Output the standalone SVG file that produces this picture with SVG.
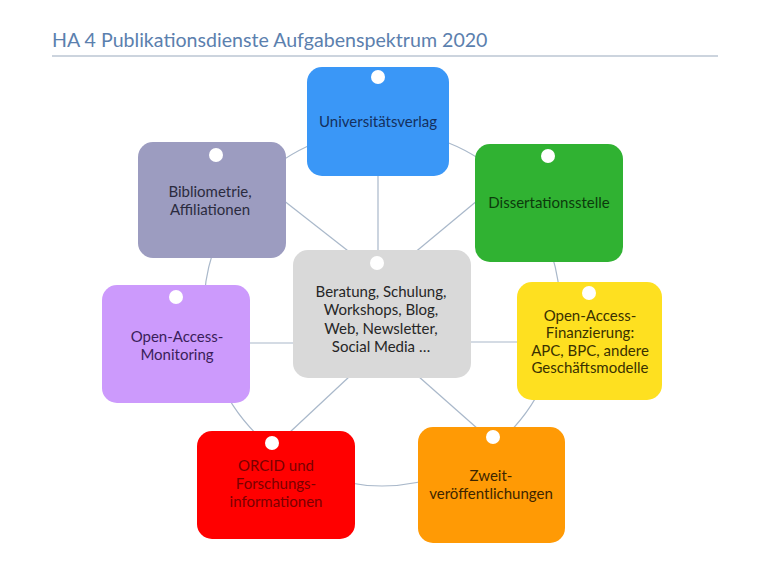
<svg xmlns="http://www.w3.org/2000/svg" width="768" height="576" viewBox="0 0 768 576">
<style>
.t{font-family:Lato,"Open Sans","Liberation Sans",sans-serif;font-size:15px;text-anchor:middle}
.box{stroke:none}
.dot{fill:#FFFFFF}
.c{fill:none;stroke:#A9B8CA;stroke-width:1.2}
</style>
<rect width="768" height="576" fill="#FFFFFF"/>
<g id="title">
<text x="52" y="47" font-family="Lato,'Open Sans','Liberation Sans',sans-serif" font-size="19.6" fill="#5B80AE">HA 4 Publikationsdienste Aufgabenspektrum 2020</text>
<line x1="52" y1="56" x2="718" y2="56" stroke="#9AAABD" stroke-width="1.2"/>
</g>
<g id="connectors">
<circle class="c" cx="382" cy="308" r="178"/>
<line class="c" x1="378" y1="176" x2="378" y2="252"/>
<line class="c" x1="283" y1="200" x2="352" y2="254"/>
<line class="c" x1="478" y1="200" x2="413" y2="254"/>
<line class="c" x1="248" y1="343" x2="295" y2="343"/>
<line class="c" x1="469" y1="342" x2="519" y2="342"/>
<line class="c" x1="350" y1="376" x2="289" y2="433"/>
<line class="c" x1="418" y1="376" x2="478" y2="429"/>
</g>
<g id="n-center">
<rect class="box" x="293" y="250" width="178" height="128" rx="15" fill="#D9D9D9"/>
<circle class="dot" cx="377" cy="263" r="7"/>
<text class="t" fill="#262626" font-size="16"><tspan x="381" y="297">Beratung, Schulung,</tspan><tspan x="381" y="315">Workshops, Blog,</tspan><tspan x="381" y="334">Web, Newsletter,</tspan><tspan x="381" y="352">Social Media …</tspan></text>
</g>
<g id="n-universitaetsverlag">
<rect class="box" x="307" y="67" width="142" height="109" rx="15" fill="#3A97F7"/>
<circle class="dot" cx="378" cy="77" r="7"/>
<text class="t" fill="#14305E" x="378" y="127">Universitätsverlag</text>
</g>
<g id="n-dissertationsstelle">
<rect class="box" x="475" y="144" width="148" height="118" rx="15" fill="#30B232"/>
<circle class="dot" cx="548" cy="156" r="7"/>
<text class="t" fill="#0C3A0C" x="549" y="208">Dissertationsstelle</text>
</g>
<g id="n-finanzierung">
<rect class="box" x="517" y="282" width="145" height="118" rx="15" fill="#FEE020"/>
<circle class="dot" cx="589" cy="293" r="7"/>
<text class="t" fill="#3A3100" font-size="14.5"><tspan x="590" y="320.5">Open-Access-</tspan><tspan x="590" y="338">Finanzierung:</tspan><tspan x="590" y="355.5">APC, BPC, andere</tspan><tspan x="590" y="373">Geschäftsmodelle</tspan></text>
</g>
<g id="n-zweit">
<rect class="box" x="418" y="427" width="147" height="116" rx="15" fill="#FF9A05"/>
<circle class="dot" cx="493" cy="437" r="7"/>
<text class="t" fill="#3D2500" font-size="14.5"><tspan x="491" y="481">Zweit-</tspan><tspan x="491" y="498.5">veröffentlichungen</tspan></text>
</g>
<g id="n-orcid">
<rect class="box" x="197" y="431" width="158" height="108" rx="15" fill="#FF0000"/>
<circle class="dot" cx="272" cy="443" r="7"/>
<text class="t" fill="#7A0000"><tspan x="276" y="471">ORCID und</tspan><tspan x="276" y="489">Forschungs-</tspan><tspan x="276" y="507">informationen</tspan></text>
</g>
<g id="n-monitoring">
<rect class="box" x="102" y="285" width="148" height="118" rx="15" fill="#CC9AFC"/>
<circle class="dot" cx="176" cy="297" r="7"/>
<text class="t" fill="#3A1E5A"><tspan x="177" y="342">Open-Access-</tspan><tspan x="177" y="360">Monitoring</tspan></text>
</g>
<g id="n-bibliometrie">
<rect class="box" x="138" y="142" width="148" height="116" rx="15" fill="#9C9CC0"/>
<circle class="dot" cx="216" cy="155" r="7"/>
<text class="t" fill="#2B2B3E"><tspan x="210" y="197">Bibliometrie,</tspan><tspan x="210" y="215">Affiliationen</tspan></text>
</g>
</svg>
